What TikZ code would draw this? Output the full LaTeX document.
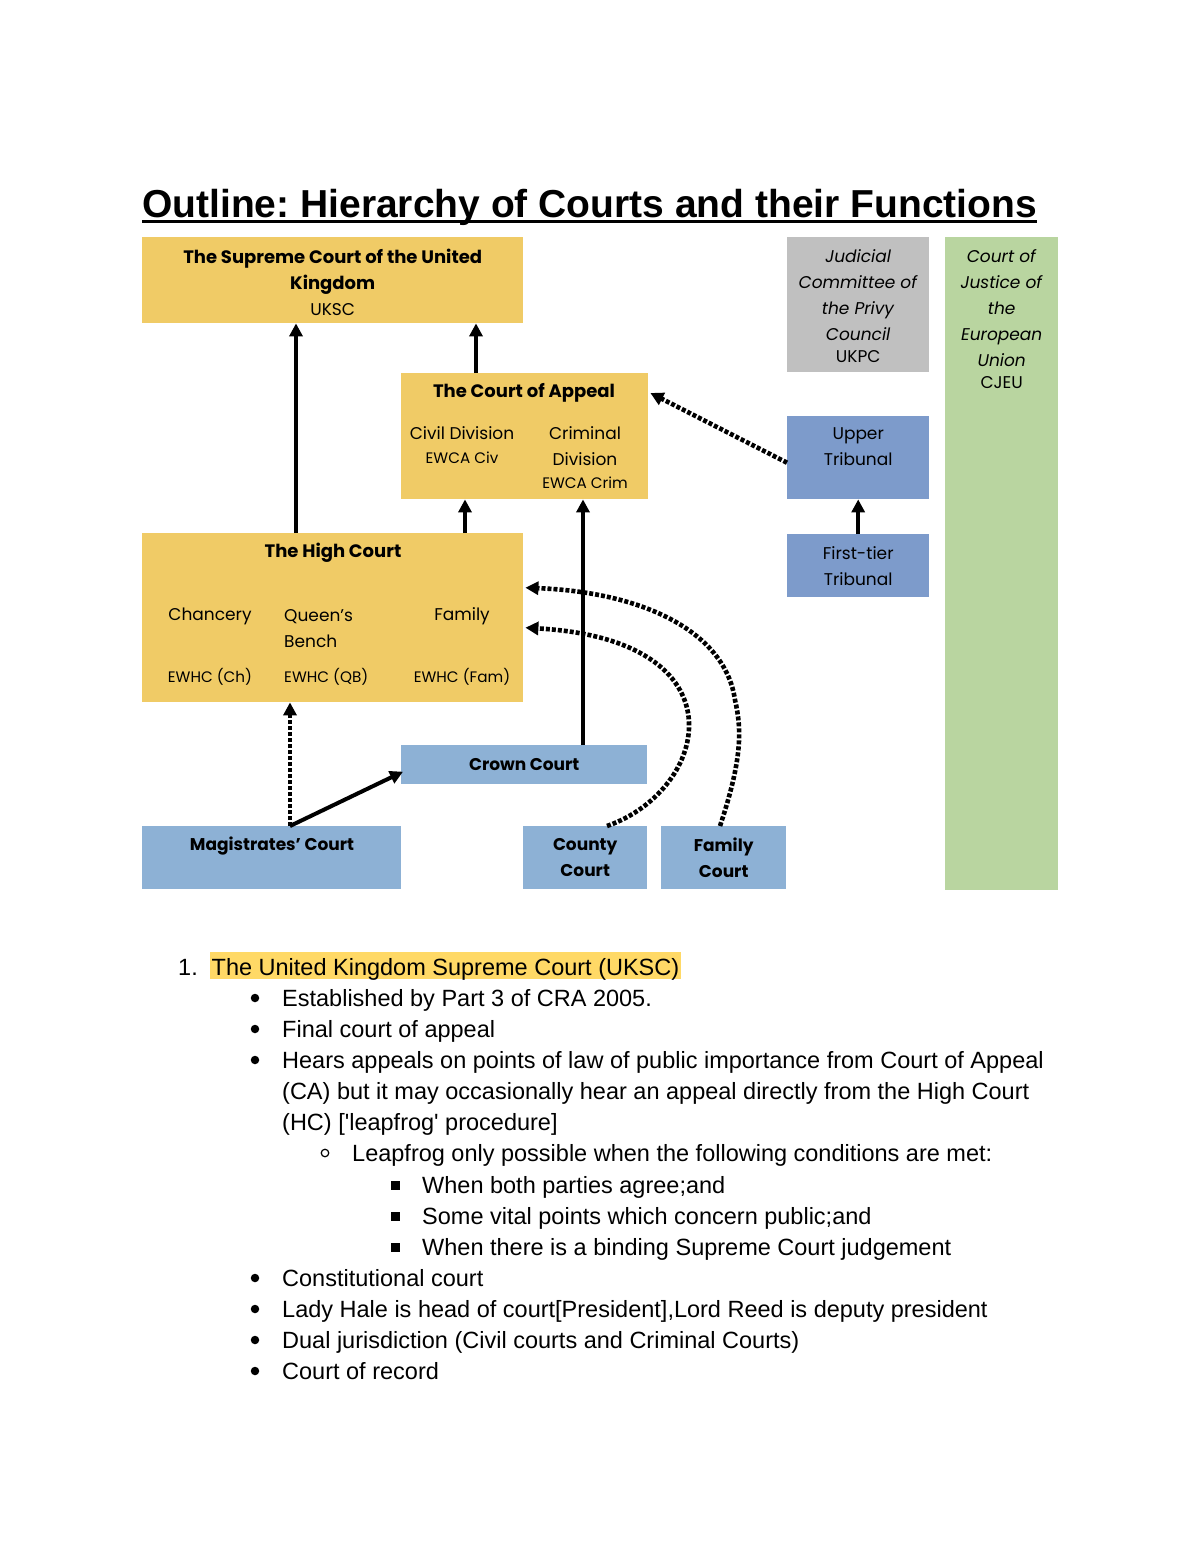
\documentclass[tikz,border=0pt]{standalone}
\usepackage{fontspec}
\setmainfont{Liberation Sans}
\newfontfamily\boxfont{Poppins}
\usepackage{tikz}
\usetikzlibrary{positioning, arrows.meta}
\frenchspacing

\definecolor{courtyellow}{HTML}{F0CB66}
\definecolor{privygrey}{HTML}{C0C0C0}
\definecolor{eugreen}{HTML}{B9D5A0}
\definecolor{tribblue}{HTML}{7D9BCB}
\definecolor{lowblue}{HTML}{8DB1D5}
\definecolor{marker}{HTML}{FFD966}

\newcommand{\bxf}{\boxfont\fontsize{17}{26}\selectfont}
\newcommand{\bxtitle}{\boxfont\fontsize{18}{26}\selectfont\bfseries}
\newcommand{\bxcode}{\boxfont\fontsize{15.2}{24}\selectfont}
\newcommand{\lstf}{\fontsize{23.5}{31}\selectfont}

\begin{document}
\begin{tikzpicture}[x=1pt, y=-1pt,
  every node/.style = {align=center, inner sep=0pt, font=\bxf},
  box/.style 2 args = {anchor=north west, minimum width=#1, minimum height=#2},
  solidarrow/.style = {line width=4pt, -{Triangle[length=13pt, width=13pt]}},
  dotarrow/.style = {solidarrow, line width=4.6pt, dash pattern=on 4pt off 2pt},
  listline/.style = {font=\lstf, anchor=base west},
  bigdot/.style = {circle, fill=black, minimum size=8.5pt},
  ringdot/.style = {circle, draw=black, line width=1.2pt, minimum size=7.5pt},
  squaredot/.style = {rectangle, fill=black, minimum size=9pt}]

\fill[white] (0,0) rectangle (1200,1553);
\useasboundingbox (0,0) rectangle (1200,1553);

% title
\node[font=\fontsize{39}{45}\selectfont\bfseries, anchor=base west] (title) at (142,217) {Outline: Hierarchy of Courts and their Functions};
\draw[line width=2.6pt] ([yshift=-4.5pt]title.base west) -- ([yshift=-4.5pt]title.base east);

% courts
\node[box={381pt}{86pt}, fill=courtyellow] (uksc) at (142,237) {};
\node[below=12pt of uksc.north] (uksctext) {{\bxtitle The Supreme Court of the United}\\{\bxtitle Kingdom}\\UKSC};

\node[box={247pt}{126pt}, fill=courtyellow] (coa) at (401,373) {};
\node[font=\bxtitle] (coatitle) at (524,393) {The Court of Appeal};
\node (coaciv) at (462,445) {Civil Division\\[-2pt]{\bxcode EWCA Civ}};
\node (coacrim) at (585,458) {Criminal\\Division\\[-3pt]{\bxcode EWCA Crim}};

\node[box={381pt}{169pt}, fill=courtyellow] (hc) at (142,533) {};
\node[font=\bxtitle] (hctitle) at (333,553) {The High Court};
\node (hcch) at (210,616) {Chancery};
\node[anchor=west, align=left] (hcqb) at (284,629) {Queen’s\\Bench};
\node (hcfam) at (462,616) {Family};
\node[font=\bxcode] (hcchcode) at (210,677) {EWHC (Ch)};
\node[font=\bxcode, anchor=west] (hcqbcode) at (284,677) {EWHC (QB)};
\node[font=\bxcode] (hcfamcode) at (462,677) {EWHC (Fam)};

\node[box={142pt}{135pt}, fill=privygrey] (jcpc) at (787,237) {};
\node[below=12pt of jcpc.north] (jcpctext) {\textit{Judicial}\\\textit{Committee of}\\\textit{the Privy}\\\textit{Council}\\[-4pt]UKPC};

\node[box={113pt}{653pt}, fill=eugreen] (cjeu) at (945,237) {};
\node[below=12pt of cjeu.north] (cjeutext) {\textit{Court of}\\\textit{Justice of}\\\textit{the}\\\textit{European}\\\textit{Union}\\[-4pt]CJEU};

\node[box={142pt}{83pt}, fill=tribblue] (ut) at (787,416) {};
\node[below=11pt of ut.north] (uttext) {Upper\\Tribunal};
\node[box={142pt}{63pt}, fill=tribblue] (ftt) at (787,534) {First-tier\\Tribunal};

\node[box={246pt}{39pt}, fill=lowblue, font=\bxf\bfseries] (crown) at (401,745) {Crown Court};
\node[box={259pt}{63pt}, fill=lowblue] (mag) at (142,826) {};
\node[font=\bxf\bfseries] (magtext) at (272,846) {Magistrates’ Court};
\node[box={124pt}{63pt}, fill=lowblue, font=\bxf\bfseries] (county) at (523,826) {County\\Court};
\node[box={125pt}{63pt}, fill=lowblue, font=\bxf\bfseries] (famc) at (661,826) {Family\\Court};

% appeal routes
\coordinate (hcup) at ([xshift=154pt]hc.north west);
\coordinate (coaup) at ([xshift=75pt]coa.north west);
\coordinate (hcright) at ([xshift=323pt]hc.north west);
\coordinate (crownup) at ([xshift=182pt]crown.north west);
\coordinate (magup) at ([xshift=148pt]mag.north west);

\draw[solidarrow] (hcup) -- (hcup |- uksc.south);
\draw[solidarrow] (coaup) -- (coaup |- uksc.south);
\draw[solidarrow] (hcright) -- (hcright |- coa.south);
\draw[solidarrow] (crownup) -- (crownup |- coa.south);
\draw[solidarrow] (ftt.north) -- (ut.south);
\draw[dotarrow] ([yshift=-5pt]ut.west) -- ([xshift=2pt, yshift=-20pt]coa.north east);
\draw[dotarrow] (magup) -- (magup |- hc.south);
\draw[solidarrow] (magup) -- ([xshift=2pt, yshift=-7pt]crown.west);
\draw[dotarrow] ([xshift=84pt]county.north west) .. controls (710,790) and (745,640) .. ([xshift=2pt, yshift=-10pt]hc.east);
\draw[dotarrow] ([xshift=59pt]famc.north west) .. controls (742,760) and (742,730) .. (735,700)
  .. controls (725,630) and (640,592) .. ([xshift=2pt, yshift=30pt]hc.east);

% notes
\node[listline] (num) at (178,975) {1.};
\node[listline, fill=marker, text height=23pt, text depth=4pt, inner xsep=1.5pt] (item) at (210,975) {The United Kingdom Supreme Court (UKSC)};
\node[bigdot] (b1) at (255,998) {};
\node[listline] (l1) at (282,1006) {Established by Part 3 of CRA 2005.};
\node[bigdot] (b2) at (255,1029) {};
\node[listline] (l2) at (282,1037) {Final court of appeal};
\node[bigdot] (b3) at (255,1060) {};
\node[listline] (l3) at (282,1068) {Hears appeals on points of law of public importance from Court of Appeal};
\node[listline] (l4) at (282,1099) {(CA) but it may occasionally hear an appeal directly from the High Court};
\node[listline] (l5) at (282,1130) {(HC) [\textquotesingle leapfrog\textquotesingle\ procedure]};
\node[ringdot] (b6) at (325,1153) {};
\node[listline] (l6) at (352,1161) {Leapfrog only possible when the following conditions are met:};
\node[squaredot] (b7) at (395,1185) {};
\node[listline] (l7) at (422,1193) {When both parties agree;and};
\node[squaredot] (b8) at (395,1216) {};
\node[listline] (l8) at (422,1224) {Some vital points which concern public;and};
\node[squaredot] (b9) at (395,1247) {};
\node[listline] (l9) at (422,1255) {When there is a binding Supreme Court judgement};
\node[bigdot] (b10) at (255,1278) {};
\node[listline] (l10) at (282,1286) {Constitutional court};
\node[bigdot] (b11) at (255,1309) {};
\node[listline] (l11) at (282,1317) {Lady Hale is head of court[President],Lord Reed is deputy president};
\node[bigdot] (b12) at (255,1340) {};
\node[listline] (l12) at (282,1348) {Dual jurisdiction (Civil courts and Criminal Courts)};
\node[bigdot] (b13) at (255,1371) {};
\node[listline] (l13) at (282,1379) {Court of record};
\end{tikzpicture}
\end{document}
